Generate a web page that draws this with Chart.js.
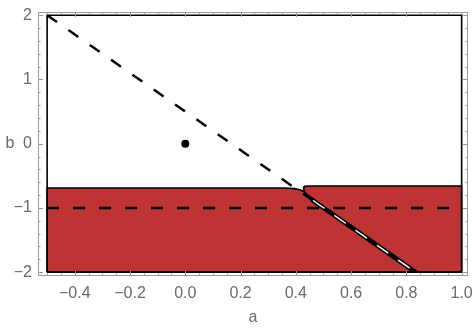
<!DOCTYPE html>
<html>
<head>
<meta charset="utf-8">
<script src="https://cdn.jsdelivr.net/npm/chart.js@4.4.1/dist/chart.umd.min.js"></script>
<style>
html, body { margin: 0; padding: 0; background: #fff; }
</style>
</head>
<body>
<canvas id="regionChart" width="474" height="332"></canvas>
<script>
// axis ticks and labels
var xTicks = [-0.4, -0.2, 0.0, 0.2, 0.4, 0.6, 0.8, 1.0]
var yTicks = [-2, -1, 0, 1, 2]
var xLabel = 'a'
var yLabel = 'b'

// red region, left part (a, b)
var leftRegionA = [-0.5, -0.5, 0.36, 0.395, 0.418, 0.435, 0.448, 0.458, 0.823, -0.5]
var leftRegionB = [-2, -0.69, -0.69, -0.70, -0.72, -0.76, -0.81, -0.90, -2, -2]
// red region, right part
var rightRegionA = [1.0, 1.0, 0.445, 0.432, 0.428, 0.429, 0.435, 0.843, 1.0]
var rightRegionB = [-2, -0.66, -0.66, -0.665, -0.68, -0.72, -0.775, -2, -2]
// outer box of the region plot
var boxA = [-0.5, -0.5, 1.0, 1.0, -0.5]
var boxB = [-2, 2, 2, -2, -2]
// dashed lines
var diagA = [-0.5, 0.8333]
var diagB = [2, -2]
var horizA = [-0.5, 1.0]
var horizB = [-1, -1]
// the point
var dotA = [0]
var dotB = [0]

function pts(xs, ys) {
    return xs.map(function(x, i) { return { x: x, y: ys[i] } })
}

function fmt(v, d) {
    var s = Math.abs(v).toFixed(d)
    return (v < -1e-9 ? '\u2212' : '') + s
}

var red = '#be3333'
var tickGray = '#9a9a9a'
var labelGray = '#6a6a6a'

// frame with inward ticks and axis labels, like the original
var framePlugin = {
    id: 'frameTicks',
    afterDatasetsDraw: function(chart) {
        var ctx = chart.ctx
        var ca = chart.chartArea
        var xs = chart.scales.x
        var ys = chart.scales.y
        ctx.save()
        ctx.strokeStyle = tickGray
        ctx.lineWidth = 1
        ctx.strokeRect(ca.left + 0.5, ca.top + 0.5, ca.right - ca.left - 1, ca.bottom - ca.top - 1)
        ctx.beginPath()
        var i, v, p, len
        for (i = -10; i <= 20; i++) {
            v = i * 0.05
            if (v < xs.min || v > xs.max) continue
            len = (Math.abs(Math.round(v / 0.2) * 0.2 - v) < 1e-6) ? 5 : 2.5
            p = Math.round(xs.getPixelForValue(v)) + 0.5
            ctx.moveTo(p, ca.bottom); ctx.lineTo(p, ca.bottom - len)
            ctx.moveTo(p, ca.top); ctx.lineTo(p, ca.top + len)
        }
        for (i = -10; i <= 10; i++) {
            v = i * 0.2
            if (v < ys.min || v > ys.max) continue
            len = (i % 5 === 0) ? 5 : 2.5
            p = Math.round(ys.getPixelForValue(v)) + 0.5
            ctx.moveTo(ca.left, p); ctx.lineTo(ca.left + len, p)
            ctx.moveTo(ca.right, p); ctx.lineTo(ca.right - len, p)
        }
        ctx.stroke()
        ctx.fillStyle = labelGray
        ctx.font = '16px "Liberation Sans", Arial, sans-serif'
        ctx.textAlign = 'center'
        ctx.textBaseline = 'middle'
        ctx.fillText(xLabel, (ca.left + ca.right) / 2, 318)
        ctx.fillText(yLabel, 10, ys.getPixelForValue(0))
        ctx.restore()
    }
}

var tickFont = { family: '"Liberation Sans", Arial, sans-serif', size: 16 }

new Chart(document.getElementById('regionChart').getContext('2d'), {
    type: 'scatter',
    data: {
        datasets: [{
            data: pts(dotA, dotB),
            pointRadius: 4,
            pointBackgroundColor: '#000',
            pointBorderWidth: 0,
            showLine: false
        }, {
            data: pts(horizA, horizB),
            showLine: true,
            borderColor: '#000',
            borderWidth: 2.5,
            borderDash: [12, 14],
            pointRadius: 0
        }, {
            data: pts(diagA, diagB),
            showLine: true,
            borderColor: '#000',
            borderWidth: 2.5,
            borderDash: [12, 14],
            pointRadius: 0
        }, {
            data: pts(boxA, boxB),
            showLine: true,
            borderColor: '#000',
            borderWidth: 1.6,
            pointRadius: 0
        }, {
            data: pts(rightRegionA, rightRegionB),
            showLine: true,
            fill: 'shape',
            backgroundColor: red,
            borderColor: '#000',
            borderWidth: 1.6,
            pointRadius: 0
        }, {
            data: pts(leftRegionA, leftRegionB),
            showLine: true,
            fill: 'shape',
            backgroundColor: red,
            borderColor: '#000',
            borderWidth: 1.6,
            pointRadius: 0
        }]
    },
    options: {
        responsive: false,
        animation: false,
        layout: { padding: { top: 12, right: 6, left: 0, bottom: 0 } },
        plugins: {
            legend: { display: false },
            tooltip: { enabled: false }
        },
        scales: {
            x: {
                type: 'linear',
                min: -0.533,
                max: 1.023,
                grid: { display: false, drawTicks: false, tickLength: 0 },
                border: { display: false },
                afterBuildTicks: function(s) { s.ticks = xTicks.map(function(v) { return { value: v } }) },
                afterFit: function(s) {
                    s.height = 56
                    s.paddingLeft = 0
                    s.paddingRight = 0
                },
                ticks: {
                    color: labelGray,
                    font: tickFont,
                    padding: 8,
                    autoSkip: false,
                    maxRotation: 0,
                    callback: function(v) { return fmt(v, 1) }
                }
            },
            y: {
                type: 'linear',
                min: -2.06,
                max: 2.05,
                grid: { display: false, drawTicks: false, tickLength: 0 },
                border: { display: false },
                afterBuildTicks: function(s) { s.ticks = yTicks.map(function(v) { return { value: v } }) },
                afterFit: function(s) {
                    s.width = 38
                    s.paddingTop = 0
                    s.paddingBottom = 0
                },
                ticks: {
                    color: labelGray,
                    font: tickFont,
                    padding: 6,
                    autoSkip: false,
                    callback: function(v) { return fmt(v, 0) }
                }
            }
        }
    },
    plugins: [framePlugin]
})
</script>
</body>
</html>
